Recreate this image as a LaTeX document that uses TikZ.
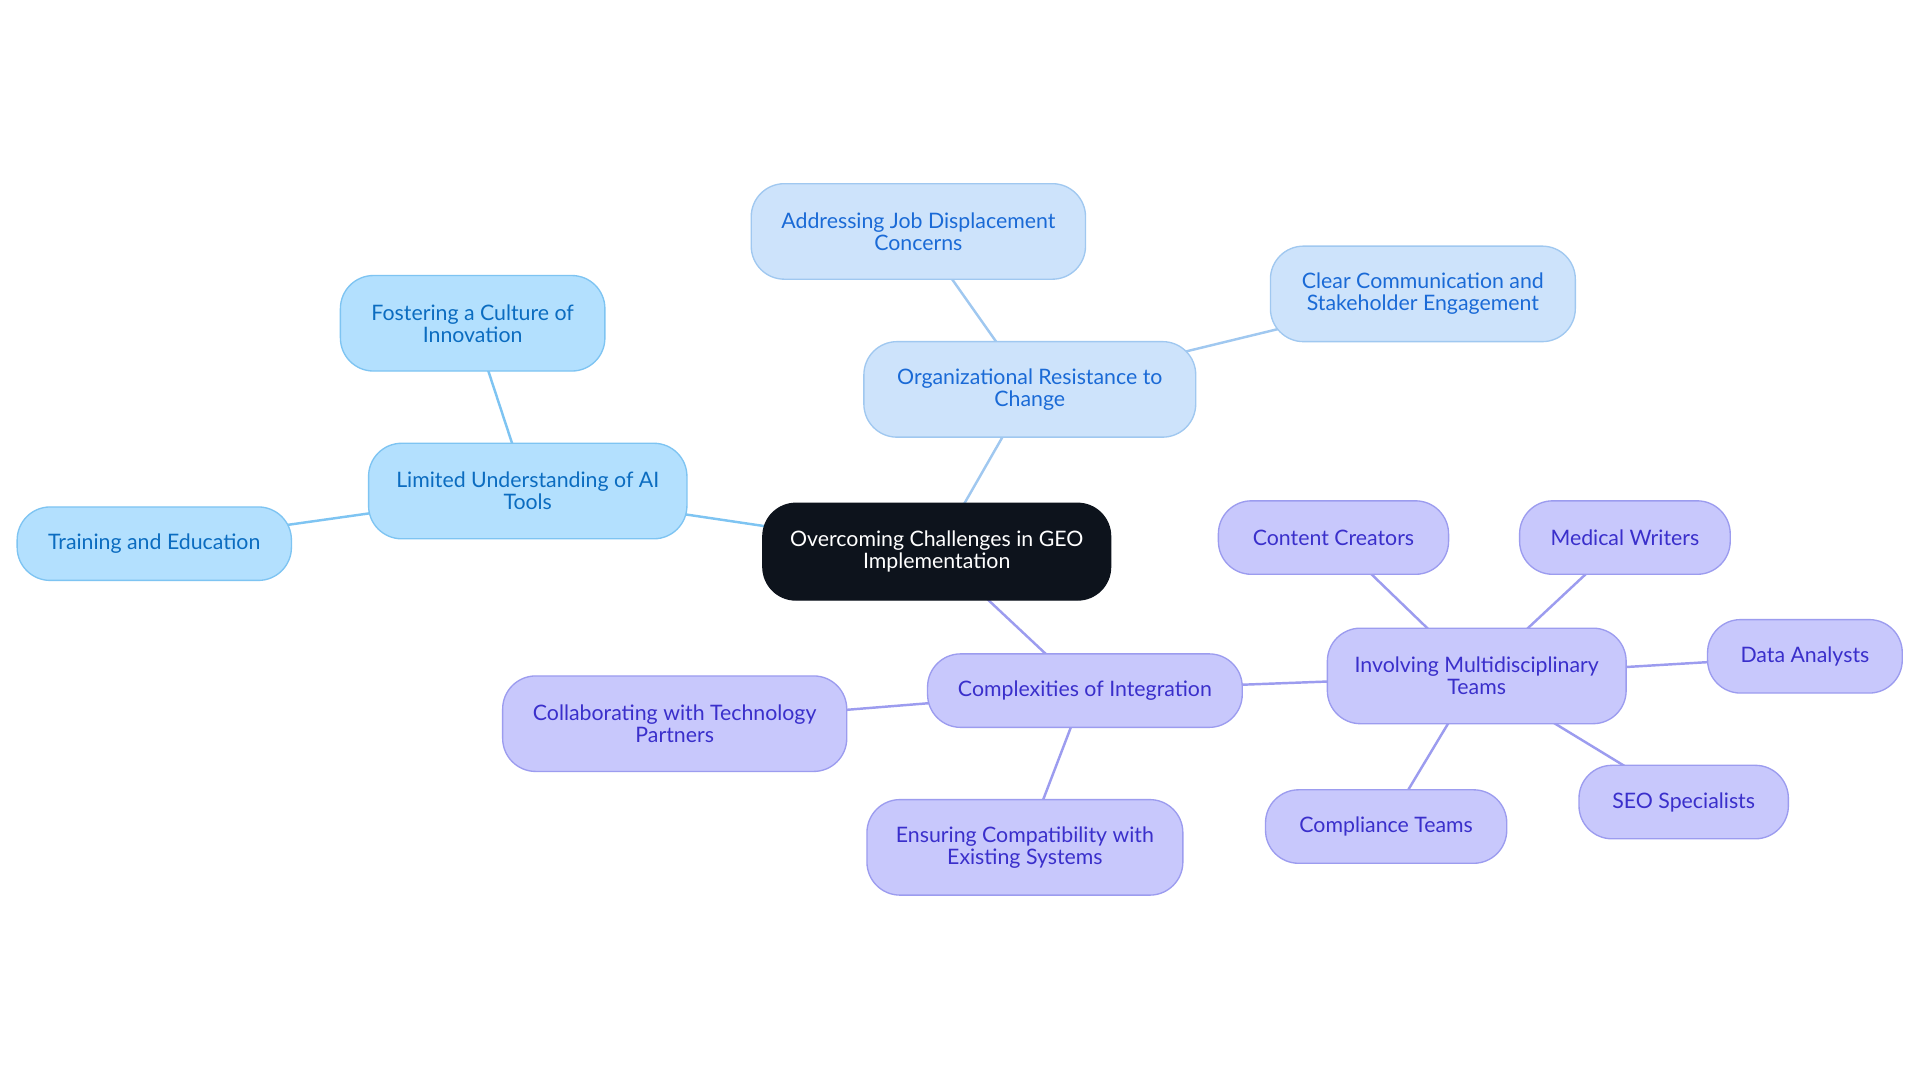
\documentclass[tikz,border=0pt]{standalone}
\usepackage{fontspec}
\setmainfont{Lato}
\usetikzlibrary{backgrounds}
\definecolor{rootfill}{HTML}{0D131C}
\definecolor{bfill}{HTML}{B3E0FE}
\definecolor{bline}{HTML}{7EC4F2}
\definecolor{btext}{HTML}{0B6CC0}
\definecolor{ofill}{HTML}{CDE3FB}
\definecolor{oline}{HTML}{A0C8F0}
\definecolor{otext}{HTML}{1A6AD6}
\definecolor{pfill}{HTML}{C8C8FC}
\definecolor{pline}{HTML}{9C9CEF}
\definecolor{ptext}{HTML}{3A2FCB}
\tikzset{
  box/.style={rectangle, rounded corners=27pt, align=center, inner sep=0pt,
    font=\fontsize{17.4}{18}\selectfont, line width=1.1pt},
  rootbox/.style={box, fill=rootfill, draw=rootfill, text=white},
  bbox/.style={box, fill=bfill, draw=bline, text=btext},
  obox/.style={box, fill=ofill, draw=oline, text=otext},
  pbox/.style={box, fill=pfill, draw=pline, text=ptext},
  bedge/.style={draw=bline, line width=2pt},
  oedge/.style={draw=oline, line width=2pt},
  pedge/.style={draw=pline, line width=2pt},
}
\begin{document}
\begin{tikzpicture}[x=1pt,y=-1pt]
\useasboundingbox (0,0) rectangle (1568,884.4);
% nodes
\node[rootbox, minimum width=284pt, minimum height=79pt] (root) at (765,450.5) {Overcoming Challenges in GEO\\Implementation};
\node[bbox, minimum width=260pt, minimum height=78pt] (lim) at (431,401) {Limited Understanding of AI\\Tools};
\node[bbox, minimum width=216pt, minimum height=78pt] (fos) at (386,264) {Fostering a Culture of\\Innovation};
\node[bbox, minimum width=224pt, minimum height=60pt] (tra) at (126,444) {Training and Education};
\node[obox, minimum width=271pt, minimum height=78pt] (org) at (841,318) {Organizational Resistance to\\Change};
\node[obox, minimum width=273pt, minimum height=78pt] (job) at (750,189) {Addressing Job Displacement\\Concerns};
\node[obox, minimum width=249pt, minimum height=78pt] (clr) at (1162,240) {Clear Communication and\\Stakeholder Engagement};
\node[pbox, minimum width=257pt, minimum height=60pt] (cpx) at (886,564) {Complexities of Integration};
\node[pbox, minimum width=281pt, minimum height=78pt] (col) at (551,591) {Collaborating with Technology\\Partners};
\node[pbox, minimum width=258pt, minimum height=78pt] (ens) at (837,692) {Ensuring Compatibility with\\Existing Systems};
\node[pbox, minimum width=244pt, minimum height=78pt] (inv) at (1206,552) {Involving Multidisciplinary\\Teams};
\node[pbox, minimum width=188pt, minimum height=60pt] (con) at (1089,439) {Content Creators};
\node[pbox, minimum width=172pt, minimum height=60pt] (med) at (1327,439) {Medical Writers};
\node[pbox, minimum width=159pt, minimum height=60pt] (dat) at (1474,536) {Data Analysts};
\node[pbox, minimum width=171pt, minimum height=60pt] (seo) at (1375,655) {SEO Specialists};
\node[pbox, minimum width=197pt, minimum height=60pt] (cmp) at (1132,675) {Compliance Teams};
% edges (behind the nodes, centre to centre)
\begin{scope}[on background layer]
\fill[white] (0,0) rectangle (1568,884.4);
\draw[bedge] (root.center) -- (lim.center);
\draw[bedge] (lim.center) -- (fos.center);
\draw[bedge] (lim.center) -- (tra.center);
\draw[oedge] (root.center) -- (org.center);
\draw[oedge] (org.center) -- (job.center);
\draw[oedge] (org.center) -- (clr.center);
\draw[pedge] (root.center) -- (cpx.center);
\draw[pedge] (cpx.center) -- (col.center);
\draw[pedge] (cpx.center) -- (ens.center);
\draw[pedge] (cpx.center) -- (inv.center);
\draw[pedge] (inv.center) -- (con.center);
\draw[pedge] (inv.center) -- (med.center);
\draw[pedge] (inv.center) -- (dat.center);
\draw[pedge] (inv.center) -- (seo.center);
\draw[pedge] (inv.center) -- (cmp.center);
\end{scope}
\end{tikzpicture}
\end{document}
